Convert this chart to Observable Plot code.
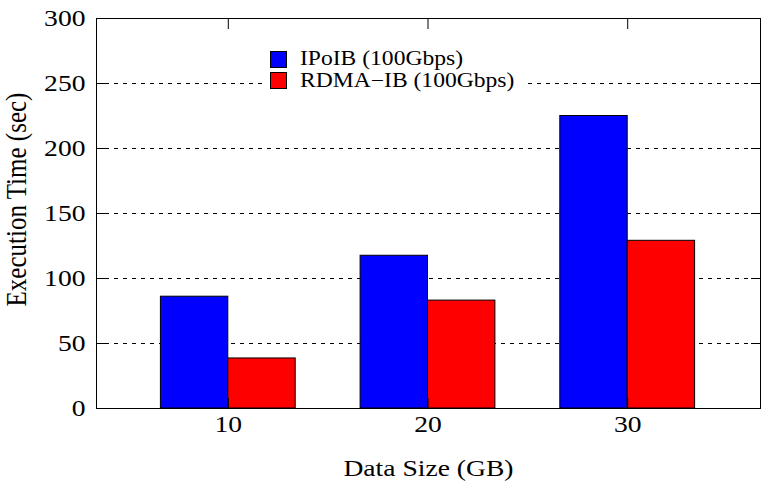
<!DOCTYPE html>
<html>
<head>
<meta charset="utf-8">
<script src="https://cdn.jsdelivr.net/npm/d3@7"></script>
<script src="https://cdn.jsdelivr.net/npm/@observablehq/plot@0.6"></script>
<style>
  html, body { margin: 0; padding: 0; background: #fff; }
  #wrap { position: relative; width: 761px; height: 484px; font-family: "Liberation Serif", "DejaVu Serif", serif; }
  #wrap svg text { font-family: "Liberation Serif", "DejaVu Serif", serif !important; fill: #000; }
  #legend { position: absolute; left: 262px; top: 44px; width: 265px; height: 52px; background: #fff; }
  .sw { position: absolute; width: 15px; height: 15px; border: 1px solid #000; }
  .lt { position: absolute; font-size: 20.5px; line-height: 20.5px; color: #000; white-space: nowrap;
        transform: scaleX(1.15); transform-origin: left center; }
</style>
</head>
<body>
<div id="wrap"></div>
<script>
const sizes = [10, 20, 30];
const seriesNames = ["IPoIB (100Gbps)", "RDMA\u2212IB (100Gbps)"];
const seriesColors = ["#0000ff", "#ff0000"];
const ipoib = [86, 117.5, 225];
const rdma = [38.5, 83, 129];
const yTicks = [0, 50, 100, 150, 200, 250, 300];
const gridTicks = [50, 100, 150, 200, 250];
const xLabel = "Data Size (GB)";
const yLabel = "Execution Time (sec)";

const barW = 3.375; // bar width in x-data units
const rows = [];
sizes.forEach((s, i) => {
  rows.push({size: s, series: seriesNames[0], k: 0, value: ipoib[i]});
  rows.push({size: s, series: seriesNames[1], k: 1, value: rdma[i]});
});

const chart = Plot.plot({
  width: 761,
  height: 484,
  marginLeft: 96,
  marginRight: 1,
  marginTop: 18,
  marginBottom: 76,
  x: {type: "linear", domain: [3.4, 36.65]},
  y: {domain: [0, 300]},
  color: {domain: seriesNames, range: seriesColors},
  marks: [
    Plot.ruleY(gridTicks, {stroke: "#000", strokeWidth: 1, strokeDasharray: "4,5"}),
    Plot.rect(rows, {
      x1: d => d.size + (d.k - 1) * barW,
      x2: d => d.size + d.k * barW,
      y1: 0,
      y2: "value",
      fill: "series",
      stroke: "#000",
      strokeWidth: 1
    }),
    Plot.axisY({ticks: yTicks, tickSize: 0, tickPadding: 11, tickFormat: d => String(d), fontSize: 24, label: null}),
    Plot.axisY({ticks: yTicks, tickSize: -10, tickFormat: () => "", label: null}),
    Plot.axisY({anchor: "right", ticks: yTicks, tickSize: -10, tickFormat: () => "", label: null}),
    Plot.axisX({ticks: sizes, tickSize: 0, tickPadding: 6, tickFormat: d => String(d), fontSize: 24, label: null}),
    Plot.axisX({ticks: sizes, tickSize: -10, tickFormat: () => "", label: null}),
    Plot.axisX({anchor: "top", ticks: sizes, tickSize: -10, tickFormat: () => "", label: null}),
    Plot.text([xLabel], {text: d => d, frameAnchor: "bottom", dy: 60, fontSize: 24, lineAnchor: "middle", textAnchor: "middle"}),
    Plot.text([yLabel], {text: d => d, frameAnchor: "left", rotate: -90, dx: -80, dy: -14, fontSize: 25, lineAnchor: "middle", textAnchor: "middle"}),
    Plot.frame({stroke: "#000", strokeWidth: 1})
  ]
});

// horizontal stretch of the reference's lettering
d3.select(chart).selectAll("text").each(function() {
  const t = this.getAttribute("transform") || "";
  if (t.includes("rotate")) this.setAttribute("transform", t + " scale(1,1.15)");
  else if (t) this.setAttribute("transform", t + " scale(1.15,1)");
});

const wrap = document.getElementById("wrap");
wrap.appendChild(chart);
const legend = document.createElement("div");
legend.id = "legend";
seriesNames.forEach((name, i) => {
  const sw = document.createElement("div");
  sw.className = "sw";
  sw.style.left = "8px";
  sw.style.top = (7 + i * 21) + "px";
  sw.style.background = seriesColors[i];
  const t = document.createElement("div");
  t.className = "lt";
  t.style.left = "38px";
  t.style.top = (3.6 + i * 22) + "px";
  t.textContent = name;
  legend.appendChild(sw);
  legend.appendChild(t);
});
wrap.appendChild(legend);
</script>
</body>
</html>
